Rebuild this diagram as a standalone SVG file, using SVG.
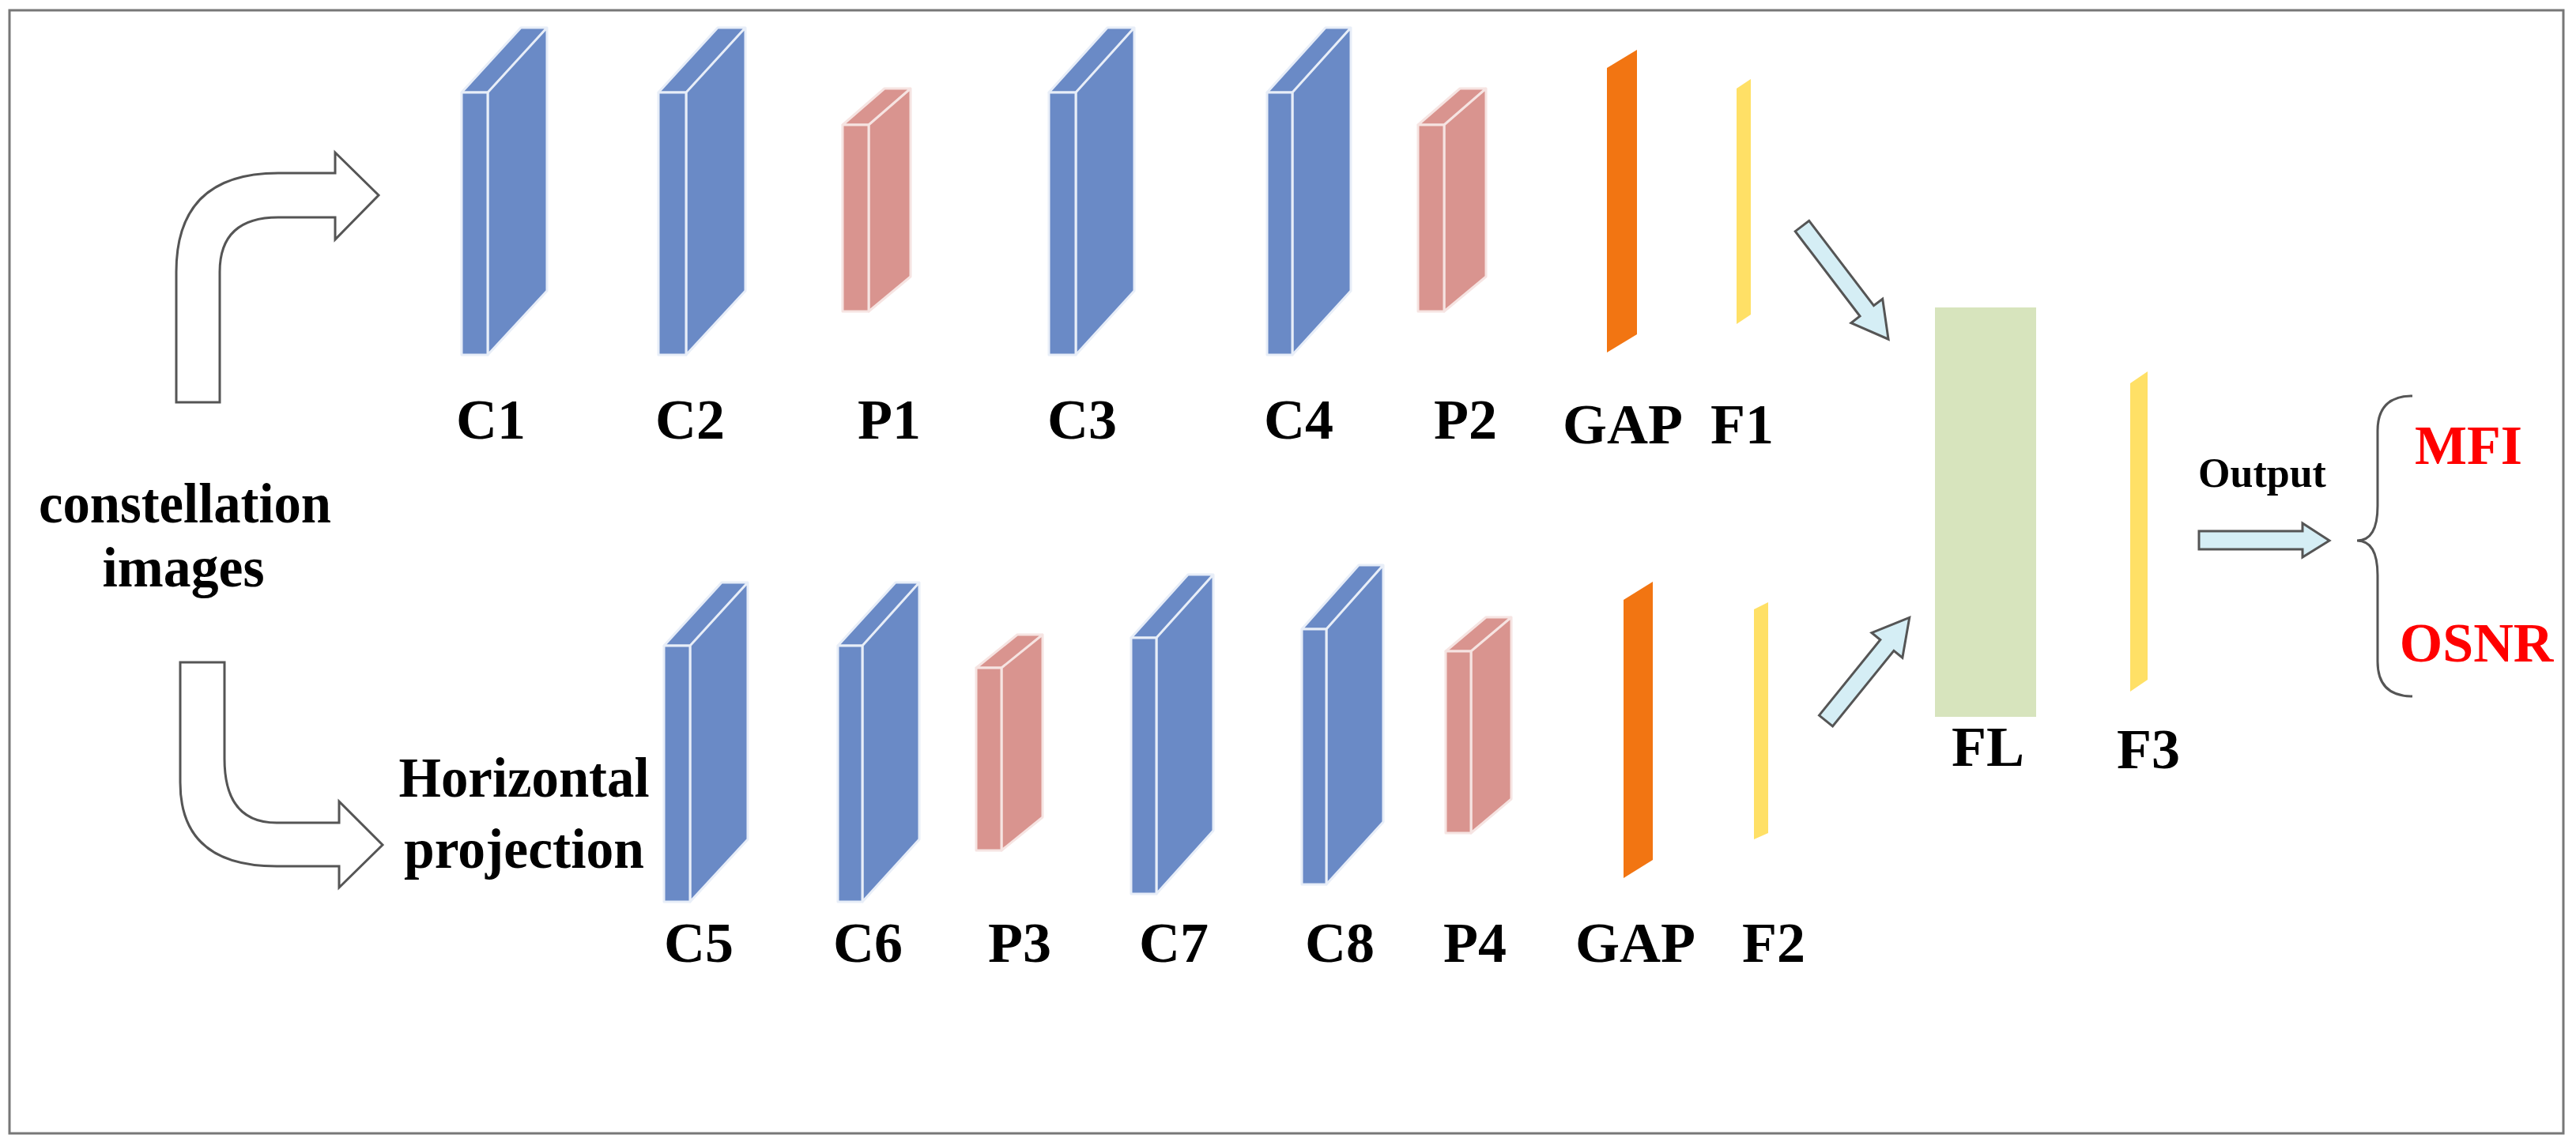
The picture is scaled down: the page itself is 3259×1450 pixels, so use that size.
<svg xmlns="http://www.w3.org/2000/svg" width="3259" height="1450" viewBox="0 0 3259 1450">
<style>
.c{fill:#6a8ac6;stroke:#e8eef8;stroke-width:3;stroke-linejoin:round}
.p{fill:#d9948f;stroke:#f6e4e2;stroke-width:3;stroke-linejoin:round}
.t{font-family:"Liberation Serif",serif;font-weight:bold;font-size:72px;fill:#000;text-anchor:middle}
.r{fill:#ff0000}
.ba{fill:#fff;stroke:#555;stroke-width:3}
.la{fill:#d5eef5;stroke:#555;stroke-width:3;stroke-linejoin:miter}
</style>
<rect x="12" y="13" width="3231" height="1421" fill="#fff" stroke="#777" stroke-width="3"/>
<g id="connectors">
<path class="ba" d="M223,509 L223,344 Q223,219 352,219 L424,219 L424,193 L479,247 L424,303 L424,275 L352,275 Q278,275 278,344 L278,509 Z"/>
<path class="ba" d="M228,838 L284,838 L284,960 Q284,1041 350,1041 L429,1041 L429,1014 L484,1069 L429,1123 L429,1096 L350,1096 Q228,1096 228,990 Z"/>
<polygon class="la" transform="translate(2280,286) rotate(52.7)" points="0,-11 135,-11 135,-25 180,0 135,25 135,11 0,11"/>
<polygon class="la" transform="translate(2310,912) rotate(-51)" points="0,-11 123,-11 123,-25 168,0 123,25 123,11 0,11"/>
<polygon class="la" points="2782,672 2913,672 2913,662 2947,684 2913,705 2913,695 2782,695"/>
<path d="M3052,501 Q3008,501 3008,545 L3008,640 Q3008,684 2982,684 Q3008,684 3008,728 L3008,837 Q3008,881 3052,881" fill="none" stroke="#555" stroke-width="3"/>
</g>
<g id="input">
<text class="t" x="234" y="661" textLength="370" lengthAdjust="spacingAndGlyphs">constellation</text>
<text class="t" x="232" y="742" textLength="205" lengthAdjust="spacingAndGlyphs">images</text>
<text class="t" x="663" y="1008" textLength="317" lengthAdjust="spacingAndGlyphs">Horizontal</text>
<text class="t" x="663" y="1098" textLength="304" lengthAdjust="spacingAndGlyphs">projection</text>
</g>
<g id="C1"><path class="c" d="M584,117 L659,35 L692,35 L617,117 Z M617,117 L692,35 L692,368 L617,449 Z"/><rect class="c" x="584" y="117" width="33" height="332"/><text class="t" x="621" y="555">C1</text></g>
<g id="C2"><path class="c" d="M833,117 L908,35 L943,35 L868,117 Z M868,117 L943,35 L943,368 L868,449 Z"/><rect class="c" x="833" y="117" width="35" height="332"/><text class="t" x="873" y="555">C2</text></g>
<g id="P1"><path class="p" d="M1066,158 L1119,112 L1152,112 L1099,158 Z M1099,158 L1152,112 L1152,350 L1099,394 Z"/><rect class="p" x="1066" y="158" width="33" height="236"/><text class="t" x="1125" y="555">P1</text></g>
<g id="C3"><path class="c" d="M1327,117 L1401,35 L1435,35 L1361,117 Z M1361,117 L1435,35 L1435,368 L1361,449 Z"/><rect class="c" x="1327" y="117" width="34" height="332"/><text class="t" x="1369" y="555">C3</text></g>
<g id="C4"><path class="c" d="M1603,117 L1677,35 L1709,35 L1635,117 Z M1635,117 L1709,35 L1709,368 L1635,449 Z"/><rect class="c" x="1603" y="117" width="32" height="332"/><text class="t" x="1643" y="555">C4</text></g>
<g id="P2"><path class="p" d="M1794,158 L1847,112 L1880,112 L1827,158 Z M1827,158 L1880,112 L1880,350 L1827,394 Z"/><rect class="p" x="1794" y="158" width="33" height="236"/><text class="t" x="1854" y="555">P2</text></g>
<g id="GAP1"><polygon points="2033,86 2071,63 2071,423 2033,446" fill="#f27512"/><text class="t" x="2053" y="561">GAP</text></g>
<g id="F1"><polygon points="2197,112 2215,100 2215,398 2197,410" fill="#ffe066"/><text class="t" x="2204" y="561">F1</text></g>
<g id="C5"><path class="c" d="M840,817 L913,737 L946,737 L873,817 Z M873,817 L946,737 L946,1062 L873,1141 Z"/><rect class="c" x="840" y="817" width="33" height="324"/><text class="t" x="884" y="1217">C5</text></g>
<g id="C6"><path class="c" d="M1060,817 L1133,737 L1163,737 L1091,817 Z M1091,817 L1163,737 L1163,1062 L1091,1141 Z"/><rect class="c" x="1060" y="817" width="31" height="324"/><text class="t" x="1098" y="1217">C6</text></g>
<g id="P3"><path class="p" d="M1235,845 L1287,803 L1319,803 L1267,845 Z M1267,845 L1319,803 L1319,1034 L1267,1076 Z"/><rect class="p" x="1235" y="845" width="32" height="231"/><text class="t" x="1290" y="1217">P3</text></g>
<g id="C7"><path class="c" d="M1431,807 L1503,727 L1535,727 L1463,807 Z M1463,807 L1535,727 L1535,1051 L1463,1131 Z"/><rect class="c" x="1431" y="807" width="32" height="324"/><text class="t" x="1485" y="1217">C7</text></g>
<g id="C8"><path class="c" d="M1647,796 L1719,715 L1750,715 L1678,796 Z M1678,796 L1750,715 L1750,1040 L1678,1119 Z"/><rect class="c" x="1647" y="796" width="31" height="323"/><text class="t" x="1695" y="1217">C8</text></g>
<g id="P4"><path class="p" d="M1829,824 L1880,781 L1912,781 L1861,824 Z M1861,824 L1912,781 L1912,1011 L1861,1054 Z"/><rect class="p" x="1829" y="824" width="32" height="230"/><text class="t" x="1866" y="1217">P4</text></g>
<g id="GAP2"><polygon points="2054,759 2091,736 2091,1088 2054,1111" fill="#f27512"/><text class="t" x="2069" y="1217">GAP</text></g>
<g id="F2"><polygon points="2219,771 2237,762 2237,1054 2219,1062" fill="#ffe066"/><text class="t" x="2244" y="1217">F2</text></g>
<g id="FL"><rect x="2448" y="389" width="128" height="518" fill="#d7e4bd"/><text class="t" x="2515" y="969">FL</text></g>
<g id="F3"><polygon points="2695,485 2717,470 2717,860 2695,875" fill="#ffe066"/><text class="t" x="2718" y="972">F3</text></g>
<g id="output">
<text class="t" x="2862" y="616" style="font-size:52px">Output</text>
<text class="t r" x="3123" y="587" style="font-size:70px">MFI</text>
<text class="t r" x="3133" y="837" style="font-size:70px">OSNR</text>
</g>
</svg>
